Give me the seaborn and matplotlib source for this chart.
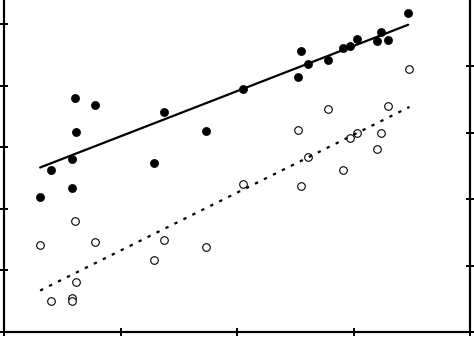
import numpy as np
import pandas as pd
import matplotlib
matplotlib.use("Agg")
import matplotlib.pyplot as plt
import seaborn as sns

# Shared x positions of both series
x_vals = [0.61, 0.78, 0.62, 0.58, 0.40, 0.58, 0.31, 1.29, 1.37, 1.73, 2.05,
          2.52, 2.55, 2.61, 2.78, 2.91, 2.97, 3.03, 3.20, 3.24, 3.30, 3.47]
# Filled circles
y_filled = [3.80, 3.69, 3.25, 2.81, 2.63, 2.34, 2.19, 2.74, 3.57, 3.26, 3.94,
            4.14, 4.56, 4.35, 4.42, 4.61, 4.64, 4.76, 4.72, 4.87, 4.74, 5.18]
# Open circles
x_open = [0.61, 0.31, 0.78, 1.29, 0.62, 0.40, 0.58, 0.58, 1.37, 1.73, 2.05,
          2.52, 2.55, 2.61, 2.78, 2.91, 2.97, 3.03, 3.20, 3.24, 3.30, 3.48]
y_open = [1.80, 1.41, 1.46, 1.17, 0.81, 0.50, 0.55, 0.50, 1.49, 1.38, 2.40,
          3.28, 2.37, 2.84, 3.62, 2.63, 3.15, 3.23, 2.97, 3.23, 3.67, 4.27]

df_f = pd.DataFrame({"x": x_vals, "y": y_filled})
df_o = pd.DataFrame({"x": x_open, "y": y_open})

sns.set_style("white")

fig = plt.figure(figsize=(4.74, 3.37), dpi=100)
ax = fig.add_axes([4 / 474, 5 / 337, 466 / 474, 332 / 337])

sns.regplot(data=df_f, x="x", y="y", ax=ax, ci=None, color="black",
            scatter_kws=dict(s=34, color="black", edgecolor="black",
                             linewidths=0.5, alpha=1),
            line_kws=dict(lw=1.6))
sns.regplot(data=df_o, x="x", y="y", ax=ax, ci=None, color="black",
            scatter_kws=dict(s=30, facecolor="white", edgecolor="black",
                             linewidths=0.8, alpha=1),
            line_kws=dict(lw=1.6, linestyle=(0, (1.5, 3.0))))

ax.set_xlim(0, 4)
ax.set_ylim(0, 332 / 61.6)
ax.set_xticks([0, 1, 2, 3, 4])
ax.set_yticks([0, 1, 2, 3, 4, 5])
ax.set_xticklabels([])
ax.set_yticklabels([])
ax.set_xlabel("")
ax.set_ylabel("")
ax.tick_params(direction="inout", length=6, width=1.4, color="black",
               bottom=True, left=True)

ax2 = ax.twinx()
ax2.set_ylim(0, 5)
ax2.set_yticks([0, 1, 2, 3, 4])
ax2.set_yticklabels([])
ax2.tick_params(axis="y", direction="inout", length=6, width=1.4,
                color="black", right=True)

for a in (ax, ax2):
    a.spines["top"].set_visible(False)
    for s in ("left", "right", "bottom"):
        a.spines[s].set_linewidth(1.5)
        a.spines[s].set_color("black")

fig.savefig("out.png", dpi=100)
